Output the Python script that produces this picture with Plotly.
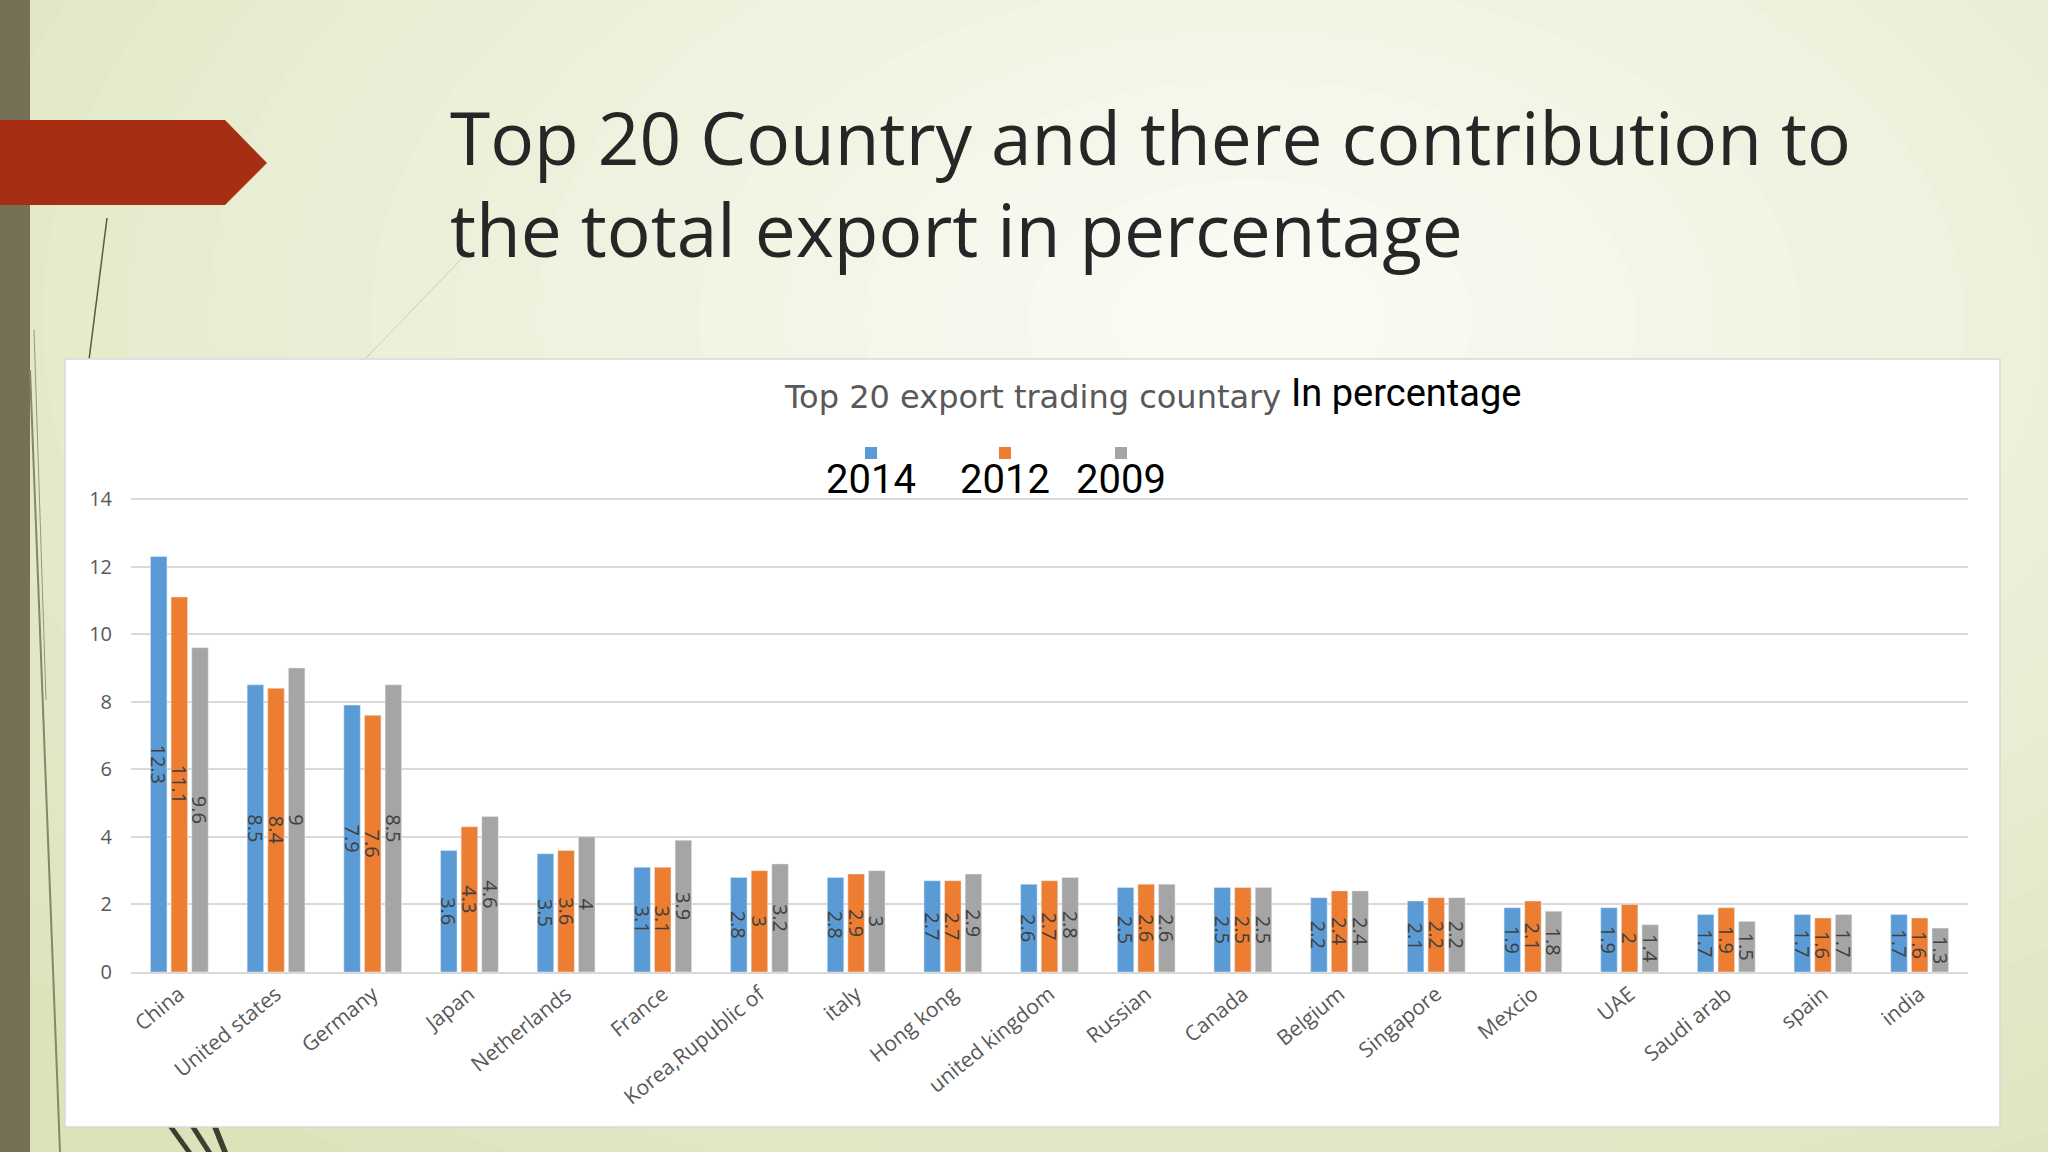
import plotly.graph_objects as go

countries = ["China", "United states", "Germany", "Japan", "Netherlands", "France",
             "Korea,Rupublic of", "italy", "Hong kong", "united kingdom", "Russian",
             "Canada", "Belgium", "Singapore", "Mexcio", "UAE", "Saudi arab", "spain", "india"]
v2014 = [12.3, 8.5, 7.9, 3.6, 3.5, 3.1, 2.8, 2.8, 2.7, 2.6, 2.5, 2.5, 2.2, 2.1, 1.9, 1.9, 1.7, 1.7, 1.7]
v2012 = [11.1, 8.4, 7.6, 4.3, 3.6, 3.1, 3.0, 2.9, 2.7, 2.7, 2.6, 2.5, 2.4, 2.2, 2.1, 2.0, 1.9, 1.6, 1.6]
v2009 = [9.6, 9.0, 8.5, 4.6, 4.0, 3.9, 3.2, 3.0, 2.9, 2.8, 2.6, 2.5, 2.4, 2.2, 1.8, 1.4, 1.5, 1.7, 1.3]
series_names = ["2014", "2012", "2009"]
series_colors = ["#5b9bd5", "#ed7d31", "#a5a5a5"]
yticks = [0, 2, 4, 6, 8, 10, 12, 14]
title_lines = ["Top 20 Country and there contribution to", "the total export in percentage"]

W, H = 2048, 1152
ML, MR, MT, MB = 131, 80, 497, 180
PW, PH = W - ML - MR, H - MT - MB
YMAX = 14.06


def px(x):
    return (x - ML) / PW


def py(y):
    return (H - MB - y) / PH


fig = go.Figure()
for name, vals, col in zip(series_names, [v2014, v2012, v2009], series_colors):
    fig.add_trace(go.Bar(
        x=countries, y=vals, name=name, marker_color=col,
        text=[f"{v:g}" for v in vals], textposition="inside",
        insidetextanchor="middle", textangle=90,
        textfont=dict(family="Open Sans, DejaVu Sans", size=20, color="#404040"),
        showlegend=False,
    ))

shapes = []
# background radial-ish gradient
outer = (0xdc, 0xe3, 0xbb)
inner = (0xf9, 0xfb, 0xf3)
cx, cy = 1250, 320
n = 20
for i in range(n):
    t = i / (n - 1)
    rx = 1700 * (1 - t) + 140 * t
    ry = 1050 * (1 - t) + 90 * t
    c = tuple(int(round(o + (inn - o) * t)) for o, inn in zip(outer, inner))
    shapes.append(dict(type="circle", xref="paper", yref="paper",
                       x0=px(cx - rx), x1=px(cx + rx), y0=py(cy + ry), y1=py(cy - ry),
                       fillcolor="rgb(%d,%d,%d)" % c, line=dict(width=0), layer="below"))
# left strip
shapes.append(dict(type="rect", xref="paper", yref="paper", x0=px(0), x1=px(30),
                   y0=py(1152), y1=py(0), fillcolor="#767057", line=dict(width=0), layer="below"))
# decorative thin lines
for (x0, y0, x1, y1, col, w) in [(107, 218, 89, 360, "#5a5a40", 1.5),
                                 (470, 250, 366, 358, "#c8cfb0", 1),
                                 (30, 370, 60, 1152, "#8a8468", 2),
                                 (34, 330, 46, 700, "#9a9478", 1)]:
    shapes.append(dict(type="line", xref="paper", yref="paper", x0=px(x0), y0=py(y0),
                       x1=px(x1), y1=py(y1), line=dict(color=col, width=w), layer="below"))
for (x0, x1) in [(168, 186), (190, 206), (212, 222)]:
    shapes.append(dict(type="path", xref="paper", yref="paper",
                       path="M %f %f L %f %f L %f %f L %f %f Z" % (
                           px(x0), py(1127), px(x0 + 6), py(1127), px(x1 + 6), py(1152), px(x1), py(1152)),
                       fillcolor="#3f3d30", line=dict(width=0), layer="below"))
# red arrow
shapes.append(dict(type="path", xref="paper", yref="paper",
                   path="M %f %f L %f %f L %f %f L %f %f L %f %f Z" % (
                       px(0), py(120), px(225), py(120), px(267), py(163), px(225), py(205), px(0), py(205)),
                   fillcolor="#a62f13", line=dict(width=0), layer="below"))
# chart box
shapes.append(dict(type="rect", xref="paper", yref="paper", x0=px(65), x1=px(2000),
                   y0=py(1127), y1=py(359), fillcolor="white",
                   line=dict(color="#d9d9d9", width=1.5), layer="below"))

annotations = []
for line, ty in zip(title_lines, [136, 228]):
    annotations.append(dict(xref="paper", yref="paper", x=px(448), y=py(ty), xanchor="left", yanchor="middle",
                            text=line, showarrow=False, align="left",
                            font=dict(family="Open Sans", size=73, color="#262626")))
annotations.append(dict(xref="paper", yref="paper", x=px(1283), y=py(397), xanchor="right", yanchor="middle",
                        text="Top 20 export trading countary", showarrow=False,
                        font=dict(family="DejaVu Sans", size=32, color="#595959")))
annotations.append(dict(xref="paper", yref="paper", x=px(1289), y=py(393), xanchor="left", yanchor="middle",
                        text="In percentage", showarrow=False,
                        font=dict(family="Liberation Sans Narrow, Roboto", size=38, color="#000000")))
leg_x = [871, 1005, 1121]
for name, col, lx in zip(series_names, series_colors, leg_x):
    shapes.append(dict(type="rect", xref="paper", yref="paper", x0=px(lx - 6), x1=px(lx + 6),
                       y0=py(459), y1=py(447), fillcolor=col, line=dict(width=0)))
    annotations.append(dict(xref="paper", yref="paper", x=px(lx), y=py(479), xanchor="center",
                            yanchor="middle", text=name, showarrow=False,
                            font=dict(family="Liberation Sans Narrow, Roboto", size=40, color="#000000")))

fig.update_layout(
    width=W, height=H, margin=dict(l=ML, r=MR, t=MT, b=MB, pad=0),
    paper_bgcolor="#dce3bb", plot_bgcolor="rgba(0,0,0,0)",
    barmode="group", bargap=0.36, bargroupgap=0.2,
    uniformtext=dict(minsize=20, mode="show"),
    shapes=shapes, annotations=annotations, showlegend=False,
    xaxis=dict(tickangle=-39, tickfont=dict(family="Open Sans", size=21, color="#595959"),
               showline=True, linecolor="#d9d9d9", linewidth=1.5, ticks="", showgrid=False),
    yaxis=dict(range=[0, YMAX], tickvals=yticks, showgrid=True, gridcolor="#d9d9d9", gridwidth=1.5,
               zeroline=False, ticks="", ticklabelstandoff=18,
               tickfont=dict(family="Open Sans", size=20, color="#595959")),
)
fig.write_html("out.html")
